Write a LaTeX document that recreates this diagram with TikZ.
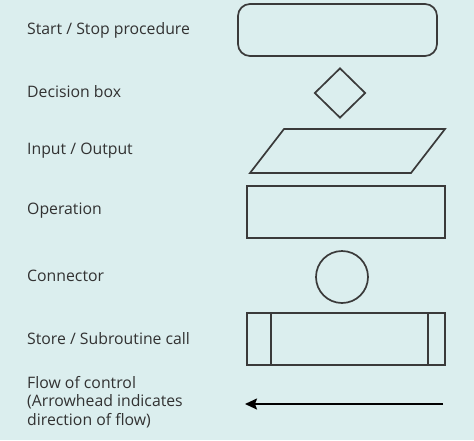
\documentclass[tikz,border=0pt]{standalone}
\usepackage{fontspec}
\setmainfont{Open Sans}
\usetikzlibrary{shapes.geometric,arrows.meta,positioning}
\definecolor{panelteal}{RGB}{219,238,238}
\definecolor{inkgray}{RGB}{58,58,58}
\definecolor{textgray}{RGB}{50,50,50}
\tikzset{
    % Define legend styles
    legendtext/.style={
        anchor=west, inner sep=0pt, text=textgray,
        font=\fontsize{15.8}{18.2}\selectfont, align=left
    },
    symbolline/.style={
        draw=inkgray, line width=1.7pt
    },
    symbolbox/.style={
        rectangle, symbolline, inner sep=0pt,
        minimum width=198pt, minimum height=52pt
    },
    terminalbox/.style={
        symbolbox, minimum width=199pt, rounded corners=12pt
    },
    decisionbox/.style={
        diamond, symbolline, inner sep=0pt,
        minimum width=51pt, minimum height=50pt
    },
    connectorcircle/.style={
        circle, symbolline, inner sep=0pt,
        minimum size=52pt
    },
    flowarrow/.style={
        -{Stealth[length=12pt,width=11pt,inset=2pt]}, line width=1.9pt, color=black
    }
}

\begin{document}
\begin{tikzpicture}[x=1pt, y=-1pt]

\fill[panelteal] (0,0) rectangle (474,440);
\useasboundingbox (0,0) rectangle (474,440);

% symbols
\node[terminalbox] (startstop) at (337.5,30) {};
\node[decisionbox] (decision) at (340,93) {};
\coordinate (inout) at (347.5,151);
\draw[symbolline, line join=miter] ([shift={(-97.5,22)}]inout) -- ([shift={(-63.5,-22)}]inout)
    -- ([shift={(97.5,-22)}]inout) -- ([shift={(63.5,22)}]inout) -- cycle;
\node[symbolbox] (operation) at (346,212) {};
\node[connectorcircle] (connector) at (342,277) {};
\node[symbolbox] (store) at (346,339) {};
\draw[symbolline] ([xshift=25pt]store.north west) -- ([xshift=25pt]store.south west);
\draw[symbolline] ([xshift=-18pt]store.north east) -- ([xshift=-18pt]store.south east);
\coordinate (flowstart) at (443,404);
\coordinate (flowend) at (245,404);
\draw[flowarrow] (flowstart) -- (flowend);

% labels
\node[legendtext] (startstoplabel) at (27,30) {Start / Stop procedure};
\node[legendtext] (decisionlabel) at (27,92) {Decision box};
\node[legendtext] (inoutlabel) at (27,151) {Input / Output};
\node[legendtext] (operationlabel) at (27,211) {Operation};
\node[legendtext] (connectorlabel) at (27,276) {Connector};
\node[legendtext] (storelabel) at (27,339) {Store / Subroutine call};
\node[legendtext] (flowlabel) at (27,402) {Flow of control\\(Arrowhead indicates\\direction of flow)};

\end{tikzpicture}
\end{document}
